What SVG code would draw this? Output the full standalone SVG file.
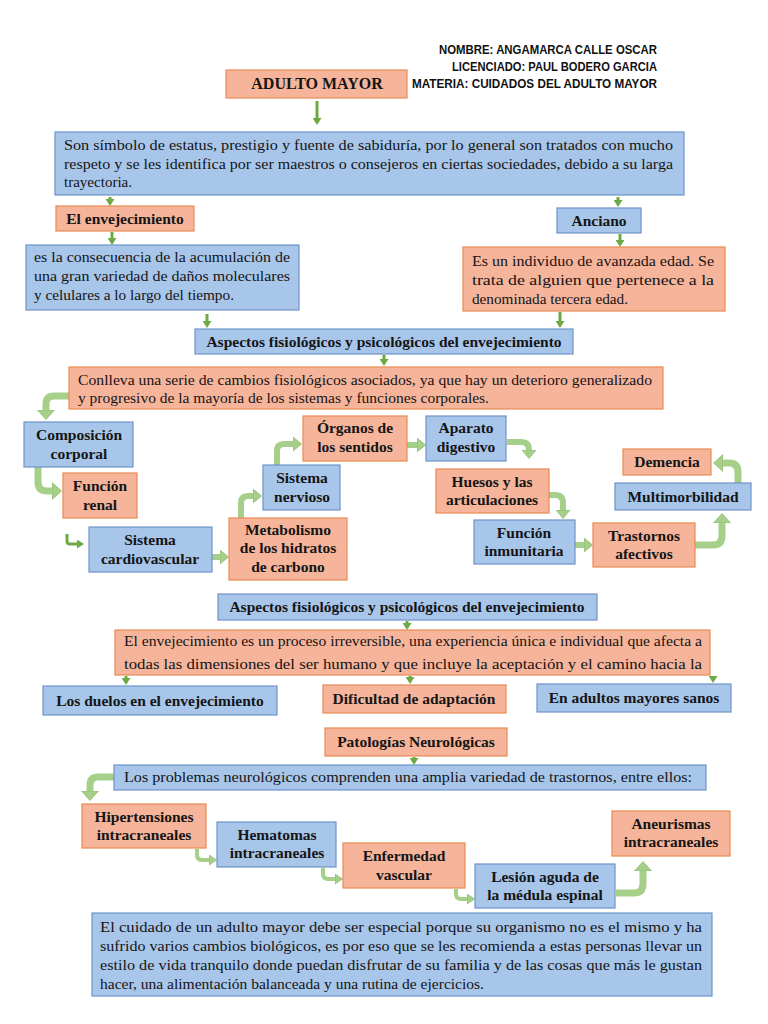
<svg xmlns="http://www.w3.org/2000/svg" width="768" height="1024" viewBox="0 0 768 1024">
<style>
.b{fill:#A8C5EA;stroke:#6E93C9;stroke-width:1.2}
.o{fill:#F6B49B;stroke:#E98A52;stroke-width:1.2}
.t{font-family:"Liberation Serif","Times New Roman",serif;font-size:15px;fill:#151515}
.h{font-family:"Liberation Serif","Times New Roman",serif;font-size:15.5px;font-weight:bold;fill:#151515;text-anchor:middle}
.hd{font-family:"Liberation Sans",Arial,sans-serif;font-size:12px;font-weight:bold;fill:#111;text-anchor:end}
.sa{fill:none;stroke:#6DAA45;stroke-width:3;marker-end:url(#md)}
.ba{fill:none;stroke:#A6D089;stroke-width:7;marker-end:url(#mb)}
.bm{fill:none;stroke:#A6D089;stroke-width:6;marker-end:url(#mm)}
.bs{fill:none;stroke:#A6D089;stroke-width:4;marker-end:url(#ms)}
</style>
<defs>
<marker id="md" viewBox="0 0 7 9" markerWidth="7" markerHeight="9" refX="1" refY="4.5" orient="auto" markerUnits="userSpaceOnUse"><path d="M0,0 L7,4.5 L0,9 Z" fill="#6DAA45"/></marker>
<marker id="mb" viewBox="0 0 10 18" markerWidth="10" markerHeight="18" refX="1" refY="9" orient="auto" markerUnits="userSpaceOnUse"><path d="M0,0.5 L9.5,9 L0,17.5 Z" fill="#A6D089" stroke="#8DBB6E" stroke-width="0.8"/></marker>
<marker id="mm" viewBox="0 0 9 15" markerWidth="9" markerHeight="15" refX="1" refY="7.5" orient="auto" markerUnits="userSpaceOnUse"><path d="M0,0.5 L8.5,7.5 L0,14.5 Z" fill="#A6D089" stroke="#8DBB6E" stroke-width="0.8"/></marker>
<marker id="ms" viewBox="0 0 8 11" markerWidth="8" markerHeight="11" refX="1" refY="5.5" orient="auto" markerUnits="userSpaceOnUse"><path d="M0,0.5 L7.5,5.5 L0,10.5 Z" fill="#A6D089" stroke="#8DBB6E" stroke-width="0.8"/></marker>
</defs>
<rect width="768" height="1024" fill="#FFFFFF"/>

<g id="header">
<text class="hd" x="657" y="54" textLength="218" lengthAdjust="spacingAndGlyphs">NOMBRE: ANGAMARCA CALLE OSCAR</text>
<text class="hd" x="657" y="71" textLength="205" lengthAdjust="spacingAndGlyphs">LICENCIADO: PAUL BODERO GARCIA</text>
<text class="hd" x="657" y="88" textLength="245" lengthAdjust="spacingAndGlyphs">MATERIA: CUIDADOS DEL ADULTO MAYOR</text>
</g>

<g id="connectors">
<path class="sa" d="M317 101 V119"/>
<path class="sa" d="M110 197 V200"/>
<path class="sa" d="M618 197 V201"/>
<path class="sa" d="M112 232 V239"/>
<path class="sa" d="M620 234 V241"/>
<path class="sa" d="M207 314 V322"/>
<path class="sa" d="M560 312 V322"/>
<path class="sa" d="M384 355 V360"/>
<path class="sa" d="M407 621 V624"/>
<path class="sa" d="M126 676 V679"/>
<path class="sa" d="M410 676 V678"/>
<path class="sa" d="M713 676 V677"/>
<path class="sa" d="M414 757 V759"/>
<path class="sa" d="M67 534 V541 Q67 544 70 544 H78"/>

<path class="ba" d="M70 396 H54 Q46 396 46 404 V411"/>
<path class="ba" d="M38 467 V482 Q38 491 47 491 H53"/>
<path class="bm" d="M212 557 H221"/>
<path class="bm" d="M241 518 V503 Q241 496 248 496 H254"/>
<path class="bm" d="M277 465 V451 Q277 444 284 444 H294"/>
<path class="bm" d="M407 445 H418"/>
<path class="bm" d="M507 442 H521 Q529 442 529 450 V451"/>
<path class="bm" d="M549 495 H555 Q563 495 563 503 V511"/>
<path class="bm" d="M575 545 H585"/>
<path class="ba" d="M695 545 H713 Q722 545 722 536 V522"/>
<path class="ba" d="M738 483 V472 Q738 463 729 463 H722"/>

<path class="ba" d="M114 777 H98 Q90 777 90 785 V792"/>
<path class="bs" d="M197 849 V855 Q197 860 202 860 H210"/>
<path class="bs" d="M323 868 V874 Q323 879 328 879 H336"/>
<path class="bs" d="M456 889 V894 Q456 899 461 899 H468"/>
<path class="ba" d="M616 893 H634 Q643 893 643 884 V870"/>
</g>

<g id="n-adulto"><rect class="o" x="226" y="70" width="181" height="28"/><text class="h" x="317" y="89" style="font-size:16px">ADULTO MAYOR</text></g>

<g id="n-simbolo"><rect class="b" x="55" y="132" width="629" height="63"/>
<text class="t" x="64" y="150" textLength="609" lengthAdjust="spacingAndGlyphs">Son símbolo de estatus, prestigio y fuente de sabiduría, por lo general son tratados con mucho</text>
<text class="t" x="64" y="169" textLength="609" lengthAdjust="spacingAndGlyphs">respeto y se les identifica por ser maestros o consejeros en ciertas sociedades, debido a su larga</text>
<text class="t" x="64" y="187" textLength="68" lengthAdjust="spacingAndGlyphs">trayectoria.</text></g>

<g id="n-envejecimiento"><rect class="o" x="56" y="206" width="138" height="25"/><text class="h" x="125" y="224">El envejecimiento</text></g>
<g id="n-anciano"><rect class="b" x="557" y="208" width="84" height="25"/><text class="h" x="599" y="226">Anciano</text></g>

<g id="n-consecuencia"><rect class="b" x="26" y="245" width="273" height="65"/>
<text class="t" x="34" y="262" textLength="256" lengthAdjust="spacingAndGlyphs">es la consecuencia de la acumulación de</text>
<text class="t" x="34" y="281" textLength="256" lengthAdjust="spacingAndGlyphs">una gran variedad de daños moleculares</text>
<text class="t" x="34" y="300" textLength="200" lengthAdjust="spacingAndGlyphs">y celulares a lo largo del tiempo.</text></g>

<g id="n-individuo"><rect class="o" x="463" y="247" width="262" height="64"/>
<text class="t" x="472" y="266" textLength="242" lengthAdjust="spacingAndGlyphs">Es un individuo de avanzada edad. Se</text>
<text class="t" x="472" y="285" textLength="242" lengthAdjust="spacingAndGlyphs">trata de alguien que pertenece a la</text>
<text class="t" x="472" y="304" textLength="156" lengthAdjust="spacingAndGlyphs">denominada tercera edad.</text></g>

<g id="n-aspectos1"><rect class="b" x="195" y="329" width="378" height="25"/><text class="h" x="384" y="347">Aspectos fisiológicos y psicológicos del envejecimiento</text></g>

<g id="n-conlleva"><rect class="o" x="69" y="367" width="594" height="42"/>
<text class="t" x="78" y="385" textLength="574" lengthAdjust="spacingAndGlyphs">Conlleva una serie de cambios fisiológicos asociados, ya que hay un deterioro generalizado</text>
<text class="t" x="78" y="403" textLength="411" lengthAdjust="spacingAndGlyphs">y progresivo de la mayoría de los sistemas y funciones corporales.</text></g>

<g id="n-composicion"><rect class="b" x="24" y="422" width="109" height="45"/><text class="h" x="79" y="440">Composición</text><text class="h" x="79" y="459">corporal</text></g>
<g id="n-renal"><rect class="o" x="63" y="473" width="74" height="45"/><text class="h" x="100" y="491">Función</text><text class="h" x="100" y="510">renal</text></g>
<g id="n-cardio"><rect class="b" x="89" y="527" width="123" height="45"/><text class="h" x="150" y="545">Sistema</text><text class="h" x="150" y="564">cardiovascular</text></g>
<g id="n-metabolismo"><rect class="o" x="229" y="518" width="118" height="62"/><text class="h" x="288" y="535">Metabolismo</text><text class="h" x="288" y="553">de los hidratos</text><text class="h" x="288" y="572">de carbono</text></g>
<g id="n-nervioso"><rect class="b" x="263" y="465" width="77" height="45"/><text class="h" x="302" y="483">Sistema</text><text class="h" x="302" y="502">nervioso</text></g>
<g id="n-organos"><rect class="o" x="303" y="416" width="104" height="45"/><text class="h" x="355" y="433">Órganos de</text><text class="h" x="355" y="452">los sentidos</text></g>
<g id="n-digestivo"><rect class="b" x="426" y="416" width="80" height="45"/><text class="h" x="466" y="433">Aparato</text><text class="h" x="466" y="452">digestivo</text></g>
<g id="n-huesos"><rect class="o" x="436" y="469" width="113" height="44"/><text class="h" x="492" y="487">Huesos y las</text><text class="h" x="492" y="505">articulaciones</text></g>
<g id="n-inmunitaria"><rect class="b" x="474" y="520" width="101" height="44"/><text class="h" x="524" y="538">Función</text><text class="h" x="524" y="556">inmunitaria</text></g>
<g id="n-trastornos"><rect class="o" x="593" y="523" width="102" height="44"/><text class="h" x="644" y="541">Trastornos</text><text class="h" x="644" y="559">afectivos</text></g>
<g id="n-multimorbilidad"><rect class="b" x="615" y="483" width="136" height="27"/><text class="h" x="683" y="502">Multimorbilidad</text></g>
<g id="n-demencia"><rect class="o" x="623" y="449" width="88" height="26"/><text class="h" x="667" y="467">Demencia</text></g>

<g id="n-aspectos2"><rect class="b" x="218" y="594" width="379" height="26"/><text class="h" x="407" y="612">Aspectos fisiológicos y psicológicos del envejecimiento</text></g>

<g id="n-proceso"><rect class="o" x="115" y="630" width="595" height="45"/>
<text class="t" x="124" y="646" textLength="578" lengthAdjust="spacingAndGlyphs">El envejecimiento es un proceso irreversible, una experiencia única e individual que afecta a</text>
<text class="t" x="124" y="669" textLength="578" lengthAdjust="spacingAndGlyphs">todas las dimensiones del ser humano y que incluye la aceptación y el camino hacia la</text></g>

<g id="n-duelos"><rect class="b" x="43" y="686" width="234" height="29"/><text class="h" x="160" y="706">Los duelos en el envejecimiento</text></g>
<g id="n-dificultad"><rect class="o" x="323" y="685" width="183" height="28"/><text class="h" x="414" y="704">Dificultad de adaptación</text></g>
<g id="n-sanos"><rect class="b" x="537" y="684" width="194" height="28"/><text class="h" x="634" y="703">En adultos mayores sanos</text></g>

<g id="n-patologias"><rect class="o" x="325" y="728" width="182" height="28"/><text class="h" x="416" y="747">Patologías Neurológicas</text></g>
<g id="n-problemas"><rect class="b" x="114" y="765" width="592" height="25"/><text class="t" x="124" y="782" textLength="568" lengthAdjust="spacingAndGlyphs">Los problemas neurológicos comprenden una amplia variedad de trastornos, entre ellos:</text></g>

<g id="n-hipertensiones"><rect class="o" x="82" y="804" width="124" height="44"/><text class="h" x="144" y="822">Hipertensiones</text><text class="h" x="144" y="840">intracraneales</text></g>
<g id="n-hematomas"><rect class="b" x="217" y="822" width="119" height="45"/><text class="h" x="277" y="840">Hematomas</text><text class="h" x="277" y="858">intracraneales</text></g>
<g id="n-enfermedad"><rect class="o" x="343" y="843" width="122" height="45"/><text class="h" x="404" y="861">Enfermedad</text><text class="h" x="404" y="880">vascular</text></g>
<g id="n-lesion"><rect class="b" x="475" y="864" width="140" height="44"/><text class="h" x="545" y="882">Lesión aguda de</text><text class="h" x="545" y="900">la médula espinal</text></g>
<g id="n-aneurismas"><rect class="o" x="612" y="811" width="118" height="45"/><text class="h" x="671" y="829">Aneurismas</text><text class="h" x="671" y="847">intracraneales</text></g>

<g id="n-cuidado"><rect class="b" x="92" y="913" width="620" height="83"/>
<text class="t" x="100" y="932" textLength="602" lengthAdjust="spacingAndGlyphs">El cuidado de un adulto mayor debe ser especial porque su organismo no es el mismo y ha</text>
<text class="t" x="100" y="951" textLength="602" lengthAdjust="spacingAndGlyphs">sufrido varios cambios biológicos, es por eso que se les recomienda a estas personas llevar un</text>
<text class="t" x="100" y="970" textLength="602" lengthAdjust="spacingAndGlyphs">estilo de vida tranquilo donde puedan disfrutar de su familia y de las cosas que más le gustan</text>
<text class="t" x="100" y="989" textLength="384" lengthAdjust="spacingAndGlyphs">hacer, una alimentación balanceada y una rutina de ejercicios.</text></g>
</svg>
